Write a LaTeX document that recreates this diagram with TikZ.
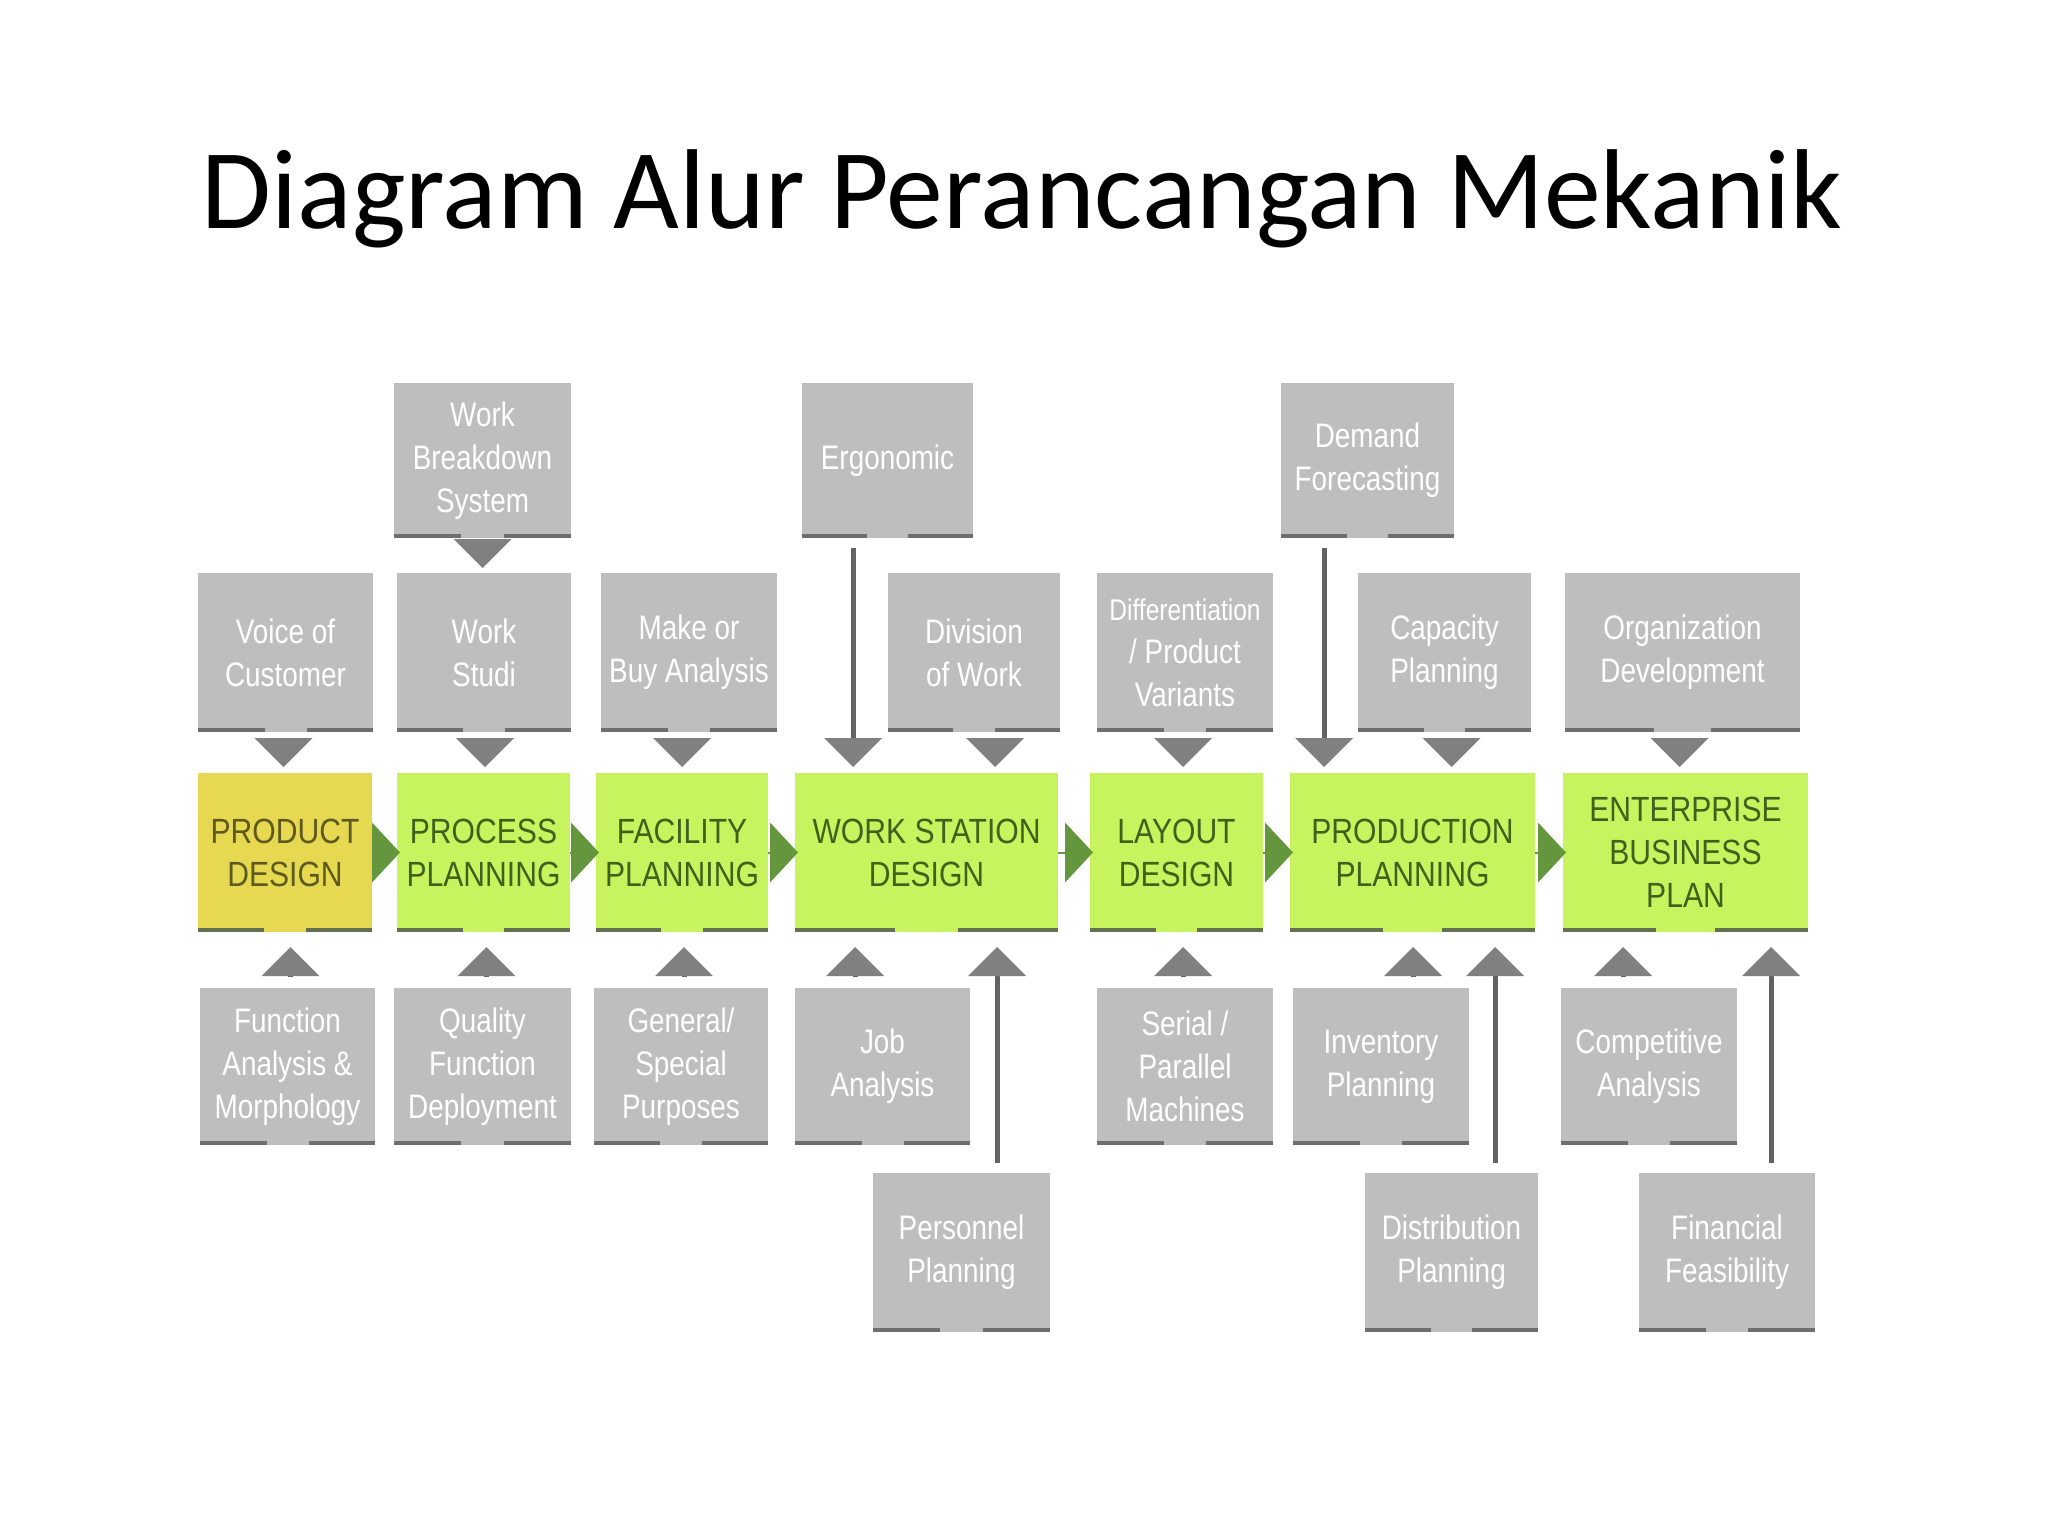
\documentclass[tikz,border=0pt]{standalone}
\usepackage{fontspec}
\setmainfont{Liberation Sans}
\newfontfamily\titlefont{Carlito}
\newfontfamily\graynarrow{Liberation Sans}[FakeStretch=0.82]
\newfontfamily\mainnarrow{Liberation Sans}[FakeStretch=0.86]
\usetikzlibrary{arrows.meta,calc}
\definecolor{boxgray}{RGB}{190,190,190}
\definecolor{edgegray}{RGB}{110,110,110}
\definecolor{limefill}{RGB}{198,243,94}
\definecolor{yellowfill}{RGB}{231,216,82}
\definecolor{maintext}{RGB}{62,98,28}
\definecolor{pdtext}{RGB}{92,90,28}
\definecolor{mainedge}{RGB}{100,112,82}
\definecolor{trigray}{RGB}{128,128,128}
\definecolor{linegray}{RGB}{98,98,98}
\definecolor{chevgreen}{RGB}{100,150,62}
\tikzset{
  gbox/.style={inner sep=0pt, outer sep=0pt, fill=boxgray, text=white,
    font=\graynarrow\fontsize{17}{21.5}\selectfont, align=center},
  mbox/.style={inner sep=0pt, outer sep=0pt, fill=limefill, text=maintext,
    font=\mainnarrow\fontsize{17.5}{21.5}\selectfont, align=center},
  tri/.style={draw=linegray, line width=2.5pt,
    -{Triangle[width=29pt 0 0,length=14.5pt 0 0,color=trigray,line width=0pt]}},
  downtri/.style={tri, shorten <=3pt, shorten >=3pt},
  uptri/.style={tri, shorten <=5.5pt, shorten >=7.5pt},
  chev/.style={draw=chevgreen, line width=1pt, shorten >=-1.5pt,
    -{Triangle[width=30pt 0 0,length=14pt 0 0,color=chevgreen,line width=0pt]}}
}
% box: [options]{name}{x1}{y1}{x2}{y2}{text}
\newcommand\bx[7][]{\node[#1, minimum width={(#5-#3)*0.5pt}, minimum height={(#6-#4)*0.5pt}] (#2) at ({(#3+#5)/2},{(#4+#6)/2}) {#7};}
\newcommand\condown[3]{\draw[downtri] ($(#1.south)+(#3,0)$) coordinate (tmp) -- (tmp |- #2.north);}
\newcommand\conup[3]{\draw[uptri] ($(#1.north)+(#3,0)$) coordinate (tmp) -- (tmp |- #2.south);}
\newcommand\boxedge[2]{%
  \fill[#2] ($(#1.south west)+(0,-4)$) rectangle ($(#1.south west)!0.38!(#1.south east)$);
  \fill[#2] ($(#1.south west)!0.62!(#1.south east)+(0,-4)$) rectangle (#1.south east);}
\begin{document}
\begin{tikzpicture}[x=0.5pt,y=-0.5pt]
\useasboundingbox (0,0) rectangle (2048,1536);
\fill[white] (0,0) rectangle (2048,1536);

\node[font=\titlefont\fontsize{56.8}{60}\selectfont, anchor=base] (title) at (1022,228) {Diagram Alur Perancangan Mekanik};

% top row
\bx[gbox]{wbs}{394}{383}{571}{538}{Work\\Breakdown\\System}
\bx[gbox]{ergo}{802}{383}{973}{538}{Ergonomic}
\bx[gbox]{dem}{1281}{383}{1454}{538}{Demand\\Forecasting}

% second row
\bx[gbox]{voc}{198}{573}{373}{732}{Voice of\\Customer}
\bx[gbox]{ws}{397}{573}{571}{732}{Work\\Studi}
\bx[gbox]{mob}{601}{573}{777}{732}{Make or\\Buy Analysis}
\bx[gbox]{dow}{888}{573}{1060}{732}{Division\\of Work}
\bx[gbox]{dif}{1097}{573}{1273}{732}{{\fontsize{15}{21.5}\selectfont Differentiation}\\/ Product\\Variants}
\bx[gbox]{cap}{1358}{573}{1531}{732}{Capacity\\Planning}
\bx[gbox]{org}{1565}{573}{1800}{732}{Organization\\Development}

% main row
\bx[mbox, fill=yellowfill, text=pdtext]{pd}{198}{773}{372}{932}{PRODUCT\\DESIGN}
\bx[mbox]{pp}{397}{773}{570}{932}{PROCESS\\PLANNING}
\bx[mbox]{fp}{596}{773}{768}{932}{FACILITY\\PLANNING}
\bx[mbox]{wsd}{795}{773}{1058}{932}{WORK STATION\\DESIGN}
\bx[mbox]{ld}{1090}{773}{1263}{932}{LAYOUT\\DESIGN}
\bx[mbox]{prp}{1290}{773}{1535}{932}{PRODUCTION\\PLANNING}
\bx[mbox]{ebp}{1563}{773}{1808}{932}{ENTERPRISE\\BUSINESS\\PLAN}

% bottom row
\bx[gbox]{fam}{200}{988}{375}{1145}{Function\\Analysis \&\\Morphology}
\bx[gbox]{qfd}{394}{988}{571}{1145}{Quality\\Function\\Deployment}
\bx[gbox]{gsp}{594}{988}{768}{1145}{General/\\Special\\Purposes}
\bx[gbox]{ja}{795}{988}{970}{1145}{Job\\Analysis}
\bx[gbox]{spm}{1097}{988}{1273}{1145}{Serial /\\Parallel\\Machines}
\bx[gbox]{ip}{1293}{988}{1469}{1145}{Inventory\\Planning}
\bx[gbox]{ca}{1561}{988}{1737}{1145}{Competitive\\Analysis}

% lowest row
\bx[gbox]{pers}{873}{1173}{1050}{1332}{Personnel\\Planning}
\bx[gbox]{dist}{1365}{1173}{1538}{1332}{Distribution\\Planning}
\bx[gbox]{fin}{1639}{1173}{1815}{1332}{Financial\\Feasibility}

% torn bottom edges
\foreach \b in {wbs,ergo,dem,voc,ws,mob,dow,dif,cap,org,fam,qfd,gsp,ja,spm,ip,ca,pers,dist,fin}{\boxedge{\b}{edgegray}}
\foreach \b in {pd,pp,fp,wsd,ld,prp,ebp}{\boxedge{\b}{mainedge}}

% chevrons between main boxes
\draw[chev] (pd.east) -- (pp.west);
\draw[chev] (pp.east) -- (fp.west);
\draw[chev] (fp.east) -- (wsd.west);
\draw[chev] (wsd.east) -- (ld.west);
\draw[chev] (ld.east) -- (prp.west);
\draw[chev] (prp.east) -- (ebp.west);

% top row to second row
\draw[tri, shorten <=0.75pt, shorten >=2.5pt] (wbs.south) coordinate (tmp) -- (tmp |- ws.north);

% second row to main row
\condown{voc}{pd}{-2}
\condown{ws}{pp}{1}
\condown{mob}{fp}{-7}
\condown{dow}{wsd}{21}
\condown{dif}{ld}{-2}
\condown{cap}{prp}{7}
\condown{org}{ebp}{-3}

% long down connectors
\draw[tri, shorten >=3pt] ($(ergo.south)+(-34.5,10)$) coordinate (tmp) -- (tmp |- wsd.north);
\draw[tri, shorten >=3pt] ($(dem.south)+(-43.5,10)$) coordinate (tmp) -- (tmp |- prp.north);

% bottom row to main row
\conup{fam}{pd}{3}
\conup{qfd}{pp}{4}
\conup{gsp}{fp}{3}
\conup{ja}{wsd}{-27.5}
\conup{spm}{ld}{-2}
\conup{ip}{prp}{32}
\conup{ca}{ebp}{-26}

% long up connectors
\draw[tri, shorten >=7.5pt] ($(pers.north)+(35.5,-10)$) coordinate (tmp) -- (tmp |- wsd.south);
\draw[tri, shorten >=7.5pt] ($(dist.north)+(43.5,-10)$) coordinate (tmp) -- (tmp |- prp.south);
\draw[tri, shorten >=7.5pt] ($(fin.north)+(44,-10)$) coordinate (tmp) -- (tmp |- ebp.south);
\end{tikzpicture}
\end{document}
